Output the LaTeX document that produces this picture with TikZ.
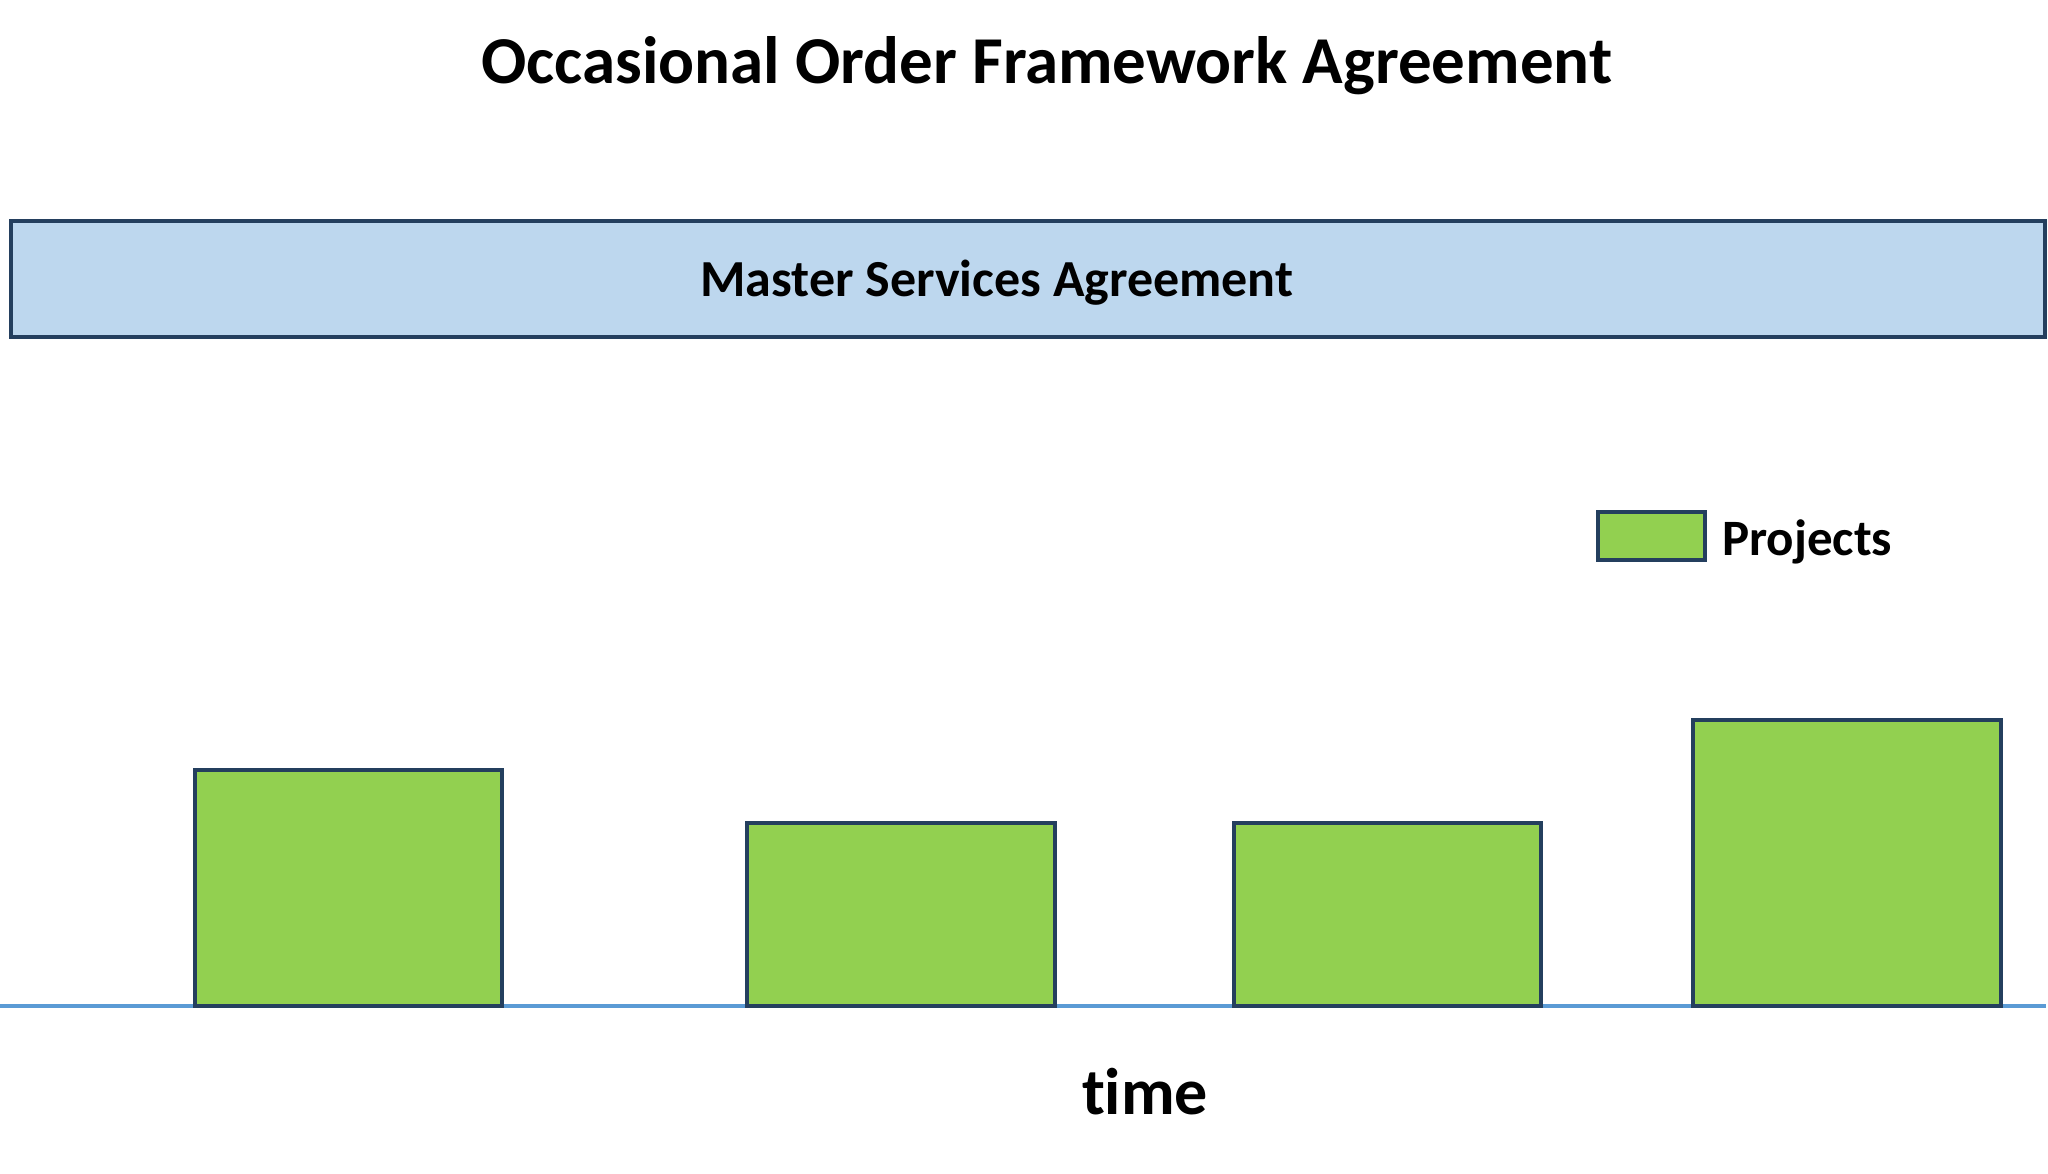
\documentclass[tikz,border=0pt]{standalone}
\usepackage{fontspec}
\setmainfont{Carlito}[Ligatures=NoCommon]
\definecolor{navy}{HTML}{243F5E}
\definecolor{msafill}{HTML}{BDD7EE}
\definecolor{projgreen}{HTML}{92D050}
\definecolor{axisblue}{HTML}{5B9BD5}
\tikzset{
  bar/.style={draw=navy, fill=projgreen, line width=4pt},
  lbl/.style={font=\bfseries, text=black, inner sep=0pt},
}
\begin{document}
\begin{tikzpicture}[x=1pt,y=-1pt]
\useasboundingbox (0,0) rectangle (2048,1173);
\fill[white] (0,0) rectangle (2048,1173);
% title
\node[lbl, font=\fontsize{67}{80}\bfseries\selectfont, anchor=base] (title) at (1047,83) {Occasional Order Framework Agreement};
% MSA
\draw[draw=navy, fill=msafill, line width=4pt] (11,221) rectangle (2045,337);
\node[lbl, font=\fontsize{52}{62}\bfseries\selectfont] (msa) at (997,283) {Master Services Agreement};
% axis
\draw[axisblue, line width=4pt] (0,1006) -- (2046,1006) coordinate (axisend);
\coordinate (axisstart) at (0,1006);
% bars
\draw[bar] (194.5,770) rectangle (501.5,1006);
\draw[bar] (747,823) rectangle (1055,1006);
\draw[bar] (1234,823) rectangle (1541,1006);
\draw[bar] (1693,720) rectangle (2001,1006);
% legend
\draw[bar] (1598,512) rectangle (1705,560);
\node[lbl, font=\fontsize{51}{61}\bfseries\selectfont, anchor=base west] (proj) at (1722,555) {Projects};
% time
\node[lbl, font=\fontsize{66}{79}\bfseries\selectfont, anchor=base] (time) at (1145,1114) {time};
\end{tikzpicture}
\end{document}
